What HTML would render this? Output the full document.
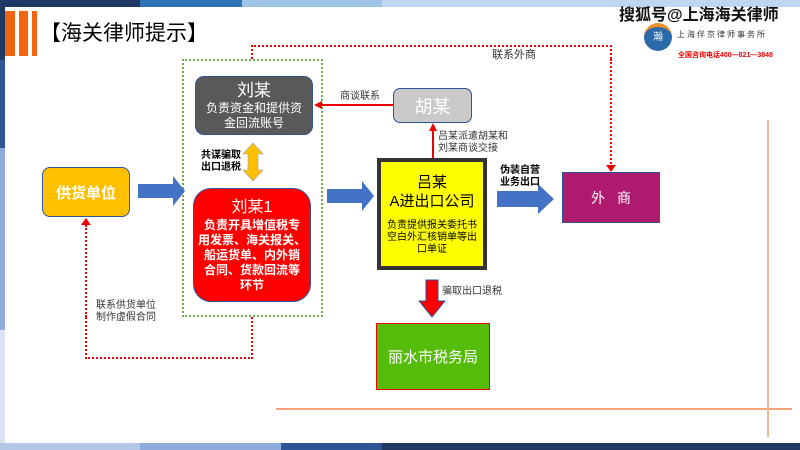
<!DOCTYPE html>
<html><head><meta charset="utf-8"><style>
*{margin:0;padding:0;box-sizing:border-box}
body{width:800px;height:450px;position:relative;background:#fff;font-family:"Liberation Sans","Noto Sans CJK SC",sans-serif;overflow:hidden}
.a{position:absolute}
.box{position:absolute;display:flex;flex-direction:column;align-items:center;justify-content:center;text-align:center;color:#fff}
.lbl{position:absolute;font-size:10px;color:#333;line-height:12px;white-space:nowrap}
</style></head><body>
<div class="a" style="left:0;top:0;width:140px;height:7px;background:#1f3864"></div>
<div class="a" style="left:140px;top:0;width:102px;height:7px;background:#2e75b6"></div>
<div class="a" style="left:242px;top:0;width:140px;height:7px;background:#9dc3e6"></div>
<div class="a" style="left:382px;top:0;width:418px;height:7px;background:#bdd7ee"></div>
<div class="a" style="left:0;top:443px;width:140px;height:7px;background:#b4c7e7"></div>
<div class="a" style="left:140px;top:443px;width:141px;height:7px;background:#8faadc"></div>
<div class="a" style="left:281px;top:443px;width:101px;height:7px;background:#2f5597"></div>
<div class="a" style="left:382px;top:443px;width:418px;height:7px;background:#203864"></div>
<div class="a" style="left:0;top:0;width:5px;height:60px;background:#1f3864"></div>
<div class="a" style="left:0;top:60px;width:5px;height:88px;background:#2f5597"></div>
<div class="a" style="left:0;top:148px;width:5px;height:182px;background:#8faadc"></div>
<div class="a" style="left:0;top:330px;width:5px;height:113px;background:#dae3f3"></div>
<div class="a" style="left:5px;top:11px;width:10px;height:45px;background:#f4630f"></div>
<div class="a" style="left:19px;top:11px;width:9px;height:45px;background:#f4630f"></div>
<div class="a" style="left:32px;top:11px;width:5px;height:45px;background:#f4630f"></div>
<div class="a" style="left:40px;top:20px;font-size:21px;color:#000;line-height:28px;white-space:nowrap">【海关律师提示】</div>
<div class="a" style="left:619px;top:6px;font-size:16px;font-weight:bold;color:#111;line-height:20px;white-space:nowrap">搜狐号@上海海关律师</div>
<div class="a" style="left:644px;top:23px;width:28px;height:28px;border-radius:50%;background:#2a6aa8;border-top:4px solid #f0902a;color:#fff;font-size:10px;text-align:center;line-height:22px">瀚</div>
<div class="a" style="left:677px;top:29px;font-size:8px;color:#333;letter-spacing:2px;white-space:nowrap">上海伴京律师事务所</div>
<div class="a" style="left:678px;top:50px;font-size:7px;color:#e00;font-weight:bold;white-space:nowrap">全国咨询电话400—821—3848</div>
<div class="a" style="left:276px;top:408px;width:516px;height:2px;background:#f4a37a"></div>
<div class="a" style="left:767px;top:120px;width:2px;height:317px;background:#f8b896"></div>
<div class="a" style="left:182px;top:59px;width:141px;height:258px;border:2px dotted #70ad47"></div>
<div class="a" style="left:251px;top:45px;width:361px;height:14px;border-top:2px dotted #e00;border-left:2px dotted #e00;border-right:2px dotted #e00"></div>
<div class="a" style="left:610px;top:59px;width:2px;height:108px;border-left:2px dotted #e00"></div>
<div class="a" style="left:606px;top:165px;width:0;height:0;border-left:5px solid transparent;border-right:5px solid transparent;border-top:7px solid #e00"></div>
<div class="lbl" style="left:492px;top:49px;font-size:11px">联系外商</div>
<div class="a" style="left:85px;top:317px;width:168px;height:42px;border-bottom:2px dotted #e00;border-left:2px dotted #e00;border-right:2px dotted #e00"></div>
<div class="a" style="left:85px;top:225px;width:2px;height:92px;border-left:2px dotted #e00"></div>
<div class="a" style="left:81px;top:218px;width:0;height:0;border-left:5px solid transparent;border-right:5px solid transparent;border-bottom:7px solid #e00"></div>
<div class="lbl" style="left:96px;top:300px">联系供货单位<br>制作虚假合同</div>
<div class="box" style="left:195px;top:76px;width:118px;height:59px;background:#595959;border:1px solid #2f5597;border-radius:9px;font-size:12px;line-height:15px"><div style="font-size:17px;line-height:20px">刘某</div>负责资金和提供资<br>金回流账号</div>
<div class="box" style="left:393px;top:88px;width:79px;height:35px;background:#c9c9c9;border:1px solid #2f5597;border-radius:7px;font-size:18px">胡某</div>
<div class="a" style="left:322px;top:104px;width:71px;height:2px;background:#e00"></div>
<div class="a" style="left:314px;top:101px;border-top:4px solid transparent;border-bottom:4px solid transparent;border-right:8px solid #e00"></div>
<div class="lbl" style="left:340px;top:91px">商谈联系</div>
<svg class="a" style="left:241px;top:142px" width="24" height="40"><polygon points="12,1 22,12 17,12 17,28 22,28 12,39 2,28 7,28 7,12 2,12" fill="#ffc000" stroke="#a0a0a0" stroke-width="0.6"/></svg>
<div class="lbl" style="left:201px;top:150px;font-size:10px;color:#000;font-weight:bold">共谋骗取<br>出口退税</div>
<div class="box" style="left:193px;top:188px;width:118px;height:114px;background:#f00;border:1px solid #2f5597;border-radius:18px;font-size:12px;line-height:15px;font-weight:bold"><div style="font-size:16px;font-weight:normal;line-height:20px">刘某1</div>负责开具增值税专<br>用发票、海关报关、<br>船运货单、内外销<br>合同、货款回流等<br>环节</div>
<div class="box" style="left:42px;top:167px;width:88px;height:50px;background:#ffc000;border:1px solid #2f5597;border-radius:8px;font-size:15px;font-weight:bold">供货单位</div>
<svg class="a" style="left:137px;top:175px" width="50" height="32"><polygon points="1,9 36,9 36,1 48,16 36,31 36,23 1,23" fill="#4472c4"/></svg>
<svg class="a" style="left:326px;top:180px" width="50" height="32"><polygon points="1,9 36,9 36,1 48,16 36,31 36,23 1,23" fill="#4472c4"/></svg>
<svg class="a" style="left:496px;top:183px" width="60" height="32"><polygon points="1,8 42,8 42,1 58,16 42,31 42,24 1,24" fill="#4472c4"/></svg>
<div class="lbl" style="left:500px;top:165px;font-size:10px;color:#000;font-weight:bold">伪装自营<br>业务出口</div>
<div class="box" style="left:377px;top:158px;width:110px;height:112px;background:#ff0;border:4px solid #333;color:#000;font-size:10px;line-height:12px"><div style="font-size:15px;line-height:19px">吕某<br>A进出口公司</div><div style="height:9px"></div>负责提供报关委托书<br>空白外汇核销单等出<br>口单证</div>
<div class="a" style="left:432px;top:130px;width:2px;height:28px;background:#e00"></div>
<div class="a" style="left:429px;top:123px;border-left:4px solid transparent;border-right:4px solid transparent;border-bottom:8px solid #e00"></div>
<div class="lbl" style="left:438px;top:131px">吕某派遣胡某和<br>刘某商谈交接</div>
<div class="box" style="left:562px;top:172px;width:98px;height:51px;background:#ae1a6e;border:1px solid #2f5597;font-size:14px;letter-spacing:12px;padding-left:12px">外商</div>
<svg class="a" style="left:418px;top:279px" width="28" height="40"><polygon points="8,1 20,1 20,22 27,22 14,38 1,22 8,22" fill="#f00" stroke="#2f5597" stroke-width="1"/></svg>
<div class="lbl" style="left:442px;top:286px">骗取出口退税</div>
<div class="box" style="left:376px;top:323px;width:114px;height:67px;background:#56bc0a;border:1px solid #e00;font-size:15px">丽水市税务局</div>
</body></html>
